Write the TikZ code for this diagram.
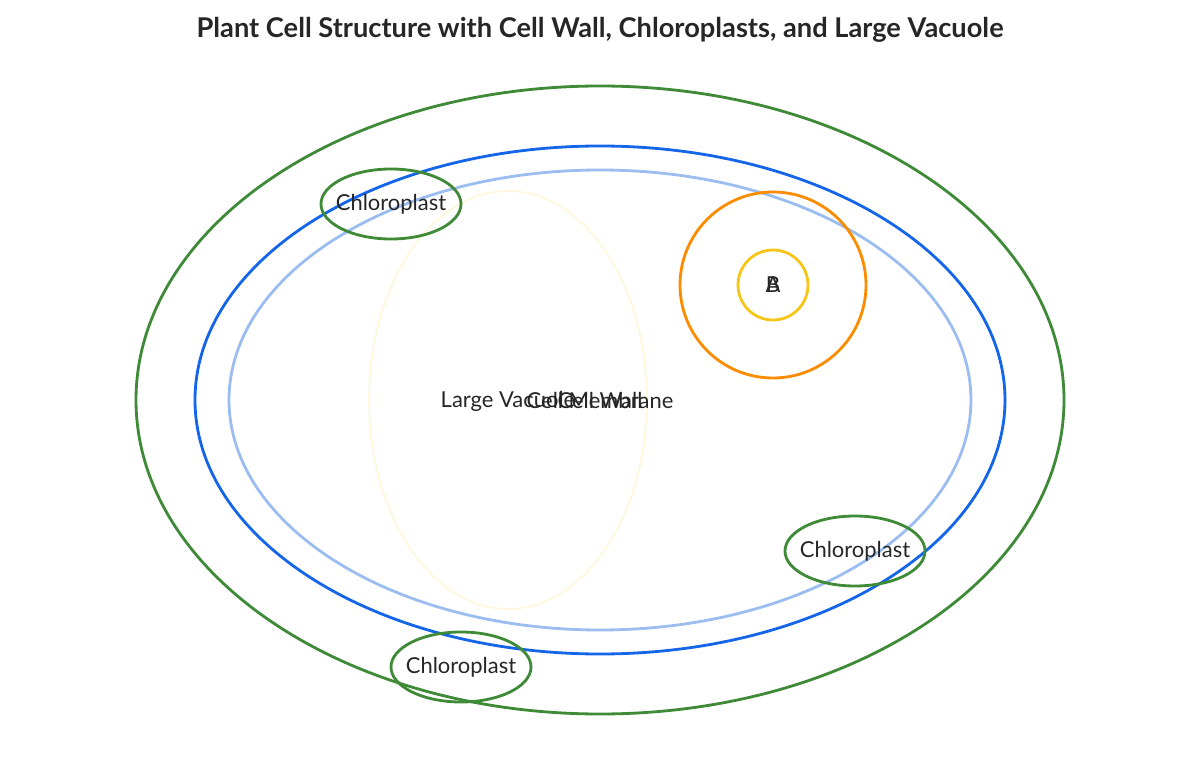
\documentclass[tikz,border=0pt]{standalone}
\usepackage{fontspec}
\setmainfont{Lato}
\definecolor{leafgreen}{HTML}{3E8A36}
\definecolor{wallblue}{HTML}{1565E8}
\definecolor{membraneblue}{HTML}{9CBDF0}
\definecolor{vacuolecream}{HTML}{FFF6DC}
\definecolor{nucleusorange}{HTML}{FB8C00}
\definecolor{nucleolusyellow}{HTML}{F5C518}
\begin{document}
\begin{tikzpicture}[x=0.02cm,y=-0.02cm,
		part/.style = {line width=1.6pt},
		label/.style = {font=\fontsize{12.5}{14}\selectfont, text=black!85}]
	\useasboundingbox (0,0) rectangle (1200,763);
	\node[font=\bfseries\fontsize{15.5}{18}\selectfont, text=black!85] (title) at (600,30) {Plant Cell Structure with Cell Wall, Chloroplasts, and Large Vacuole};
	
	\draw[part,color=leafgreen] (600,400) ellipse (464 and 314);
	\draw[part,color=wallblue] (600,400) ellipse (405 and 254);
	\draw[part,color=membraneblue] (600,400) ellipse (371 and 230);
	\draw[line width=1pt,color=vacuolecream] (508,400) ellipse (139 and 209);
	\draw[part,color=nucleusorange] (773,285) circle (93);
	\draw[part,color=nucleolusyellow] (773,285) circle (35);
	
	\node[label] (wall) at (600,401) {Cell Wall};
	\node[label] (membrane) at (600,401) {Cell Membrane};
	\node[label] (vacuole) at (508,401) {Large Vacuole};
	\node[label] (nucA) at (773,285) {A};
	\node[label] (nucB) at (773,285) {B};
	
	\foreach \cx/\cy [count=\i] in {391/204, 855/551, 461/667} {
		\draw[part,color=leafgreen] (\cx,\cy) ellipse (70 and 35);
		\node[label] (chloro\i) at (\cx,\cy) {Chloroplast};
	}
\end{tikzpicture}
\end{document}
